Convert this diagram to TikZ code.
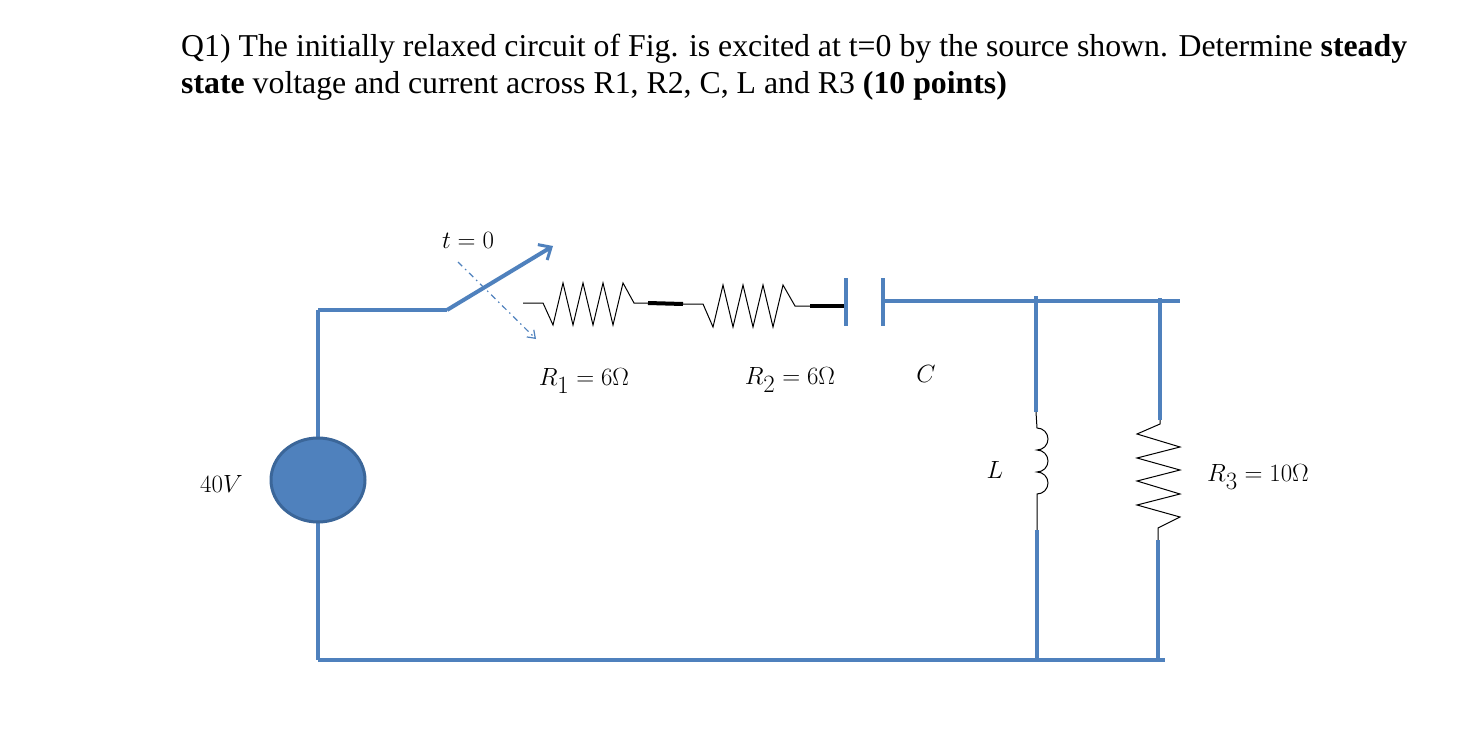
\documentclass[tikz,border=0pt]{standalone}
\usepackage{fontspec}
\setmainfont{Liberation Serif}
\usetikzlibrary{arrows.meta,shapes.geometric}
\definecolor{wb}{HTML}{4F81BD}
\definecolor{wd}{HTML}{3B6699}
\begin{document}
\begin{tikzpicture}[x=1pt,y=-1pt,
  wire/.style={wb,line width=4.5pt},
  thin/.style={black,line width=1pt},
  lbl/.style={inner sep=0pt,font=\fontsize{34}{40}\selectfont},
  mlbl/.style={inner sep=0pt,font=\fontsize{40}{46}\selectfont}]
\useasboundingbox (0,0) rectangle (1461,754);
\node[anchor=west,inner sep=0pt,font=\fontsize{31.8}{36}\selectfont] (t1) at (181,49) {Q1) The initially relaxed circuit of Fig. is excited at t=0 by the source shown. Determine \textbf{steady}};
\node[anchor=west,inner sep=0pt,font=\fontsize{31.8}{36}\selectfont] (t2) at (181,86) {\textbf{state} voltage and current across R1, R2, C, L and R3 \textbf{(10 points)}};
% coordinates
\coordinate (tl) at (318,310);
\coordinate (sw) at (447,310);
\coordinate (bl) at (318,660);
\coordinate (br) at (1165,660);
\coordinate (lt) at (1036,296);
\coordinate (rt) at (1160,298);
% source
\draw[wire] (tl) -- (318,438);
\draw[wire] (318,522) -- (bl);
\node[ellipse,draw=wd,fill=wb,line width=3pt,minimum width=94pt,minimum height=84pt] (src) at (318,480) {};
\node[lbl,anchor=west] (v) at (200,484) {$40V$};
% top left & switch
\draw[wire] (tl) -- (sw);
\draw[wb,line width=4pt,-{Straight Barb[length=10pt,width=18pt,line width=3pt]}] (sw) -- (553,246);
\draw[wb,line width=1.2pt,dash pattern=on 6pt off 4pt on 1.5pt off 4pt,-{Straight Barb[length=7pt,width=10pt]}] (458,262) -- (536,339);
\node[mlbl] (t0) at (468,240) {$t=0$};
% R1
\draw[thin] (523,303) -- (543,303) -- (553,325) -- (563,283) -- (573,325) -- (583,283) -- (593,325) -- (603,283) -- (613,325) -- (623,283) -- (634,303) -- (648,303);
\draw[black,line width=4pt] (648,303) -- (683,304);
\draw[thin] (683,304) -- (703,304) -- (713,327) -- (723,285) -- (733,327) -- (743,285) -- (753,327) -- (763,285) -- (773,327) -- (783,285) -- (795,306) -- (811,306);
\draw[black,line width=4pt] (810,306) -- (848,306);
% capacitor
\draw[wb,line width=4.5pt] (846,278) -- (846,326);
\draw[wb,line width=4.5pt] (883,278) -- (883,326);
\draw[wire] (883,301) -- (1180,301);
\node[lbl] (r1) at (584,381) {$R_1 = 6\Omega$};
\node[mlbl] (r2) at (790,380) {$R_{2} = 6\Omega$};
\node[mlbl] (c) at (926,374) {$C$};
% inductor branch
\draw[wire] (lt) -- (1036,412);
\draw[thin] (1036,412) -- (1037,428) arc[start angle=90,end angle=-90,radius=11pt] arc[start angle=90,end angle=-90,radius=11pt] arc[start angle=90,end angle=-90,radius=11pt] -- (1037,530);
\draw[wire] (1037,530) -- (1037,660);
\node[mlbl,font=\fontsize{44}{50}\selectfont] (L) at (995,470) {$L$};
% R3 branch
\draw[wire] (rt) -- (1160,420);
\draw[thin] (1160,420) -- (1160,424) -- (1137,434) -- (1180,447) -- (1137,458) -- (1180,470) -- (1137,481) -- (1180,494) -- (1137,505) -- (1180,517) -- (1158,528) -- (1158,540);
\draw[wire] (1158,540) -- (1158,660);
\node[lbl,anchor=west] (r3) at (1207,477) {$R_3 = 10\Omega$};
% bottom
\draw[wire] (bl) -- (br);
\end{tikzpicture}
\end{document}
